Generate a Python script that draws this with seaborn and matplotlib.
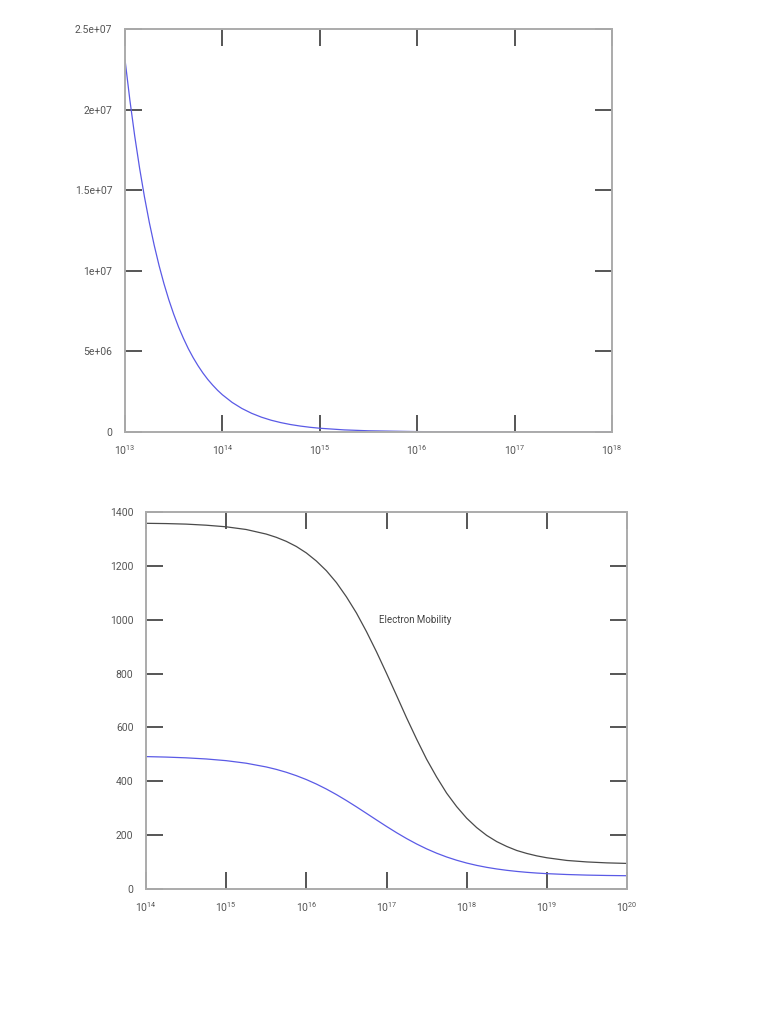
import numpy as np
import pandas as pd
import matplotlib
matplotlib.use('Agg')
import matplotlib.pyplot as plt
import seaborn as sns

# DADOS
log_n_top = [13.0, 13.05, 13.1, 13.15, 13.2, 13.25, 13.3, 13.35, 13.4, 13.45,
             13.5, 13.55, 13.6, 13.65, 13.7, 13.75, 13.8, 13.85, 13.9, 13.95,
             14.0, 14.1, 14.2, 14.3, 14.4, 14.5, 14.6, 14.7, 14.8, 14.9, 15.0,
             15.25, 15.5, 16.0, 16.5, 17.0, 17.5, 18.0]
valor_top = [2.31e7, 2.059e7, 1.835e7, 1.636e7, 1.458e7, 1.299e7, 1.158e7,
             1.032e7, 9.20e6, 8.20e6, 7.31e6, 6.51e6, 5.81e6, 5.17e6, 4.61e6,
             4.11e6, 3.66e6, 3.26e6, 2.91e6, 2.59e6, 2.31e6, 1.835e6, 1.46e6,
             1.16e6, 9.21e5, 7.31e5, 5.82e5, 4.62e5, 3.68e5, 2.92e5, 2.33e5,
             1.31e5, 7.5e4, 2.52e4, 8.8e3, 3.9e3, 2.06e3, 1.19e3]

log_n_mob = [14.0, 14.25, 14.5, 14.75, 15.0, 15.25, 15.5, 15.625, 15.75,
             15.875, 16.0, 16.125, 16.25, 16.375, 16.5, 16.625, 16.75, 16.875,
             17.0, 17.125, 17.25, 17.375, 17.5, 17.625, 17.75, 17.875, 18.0,
             18.125, 18.25, 18.375, 18.5, 18.625, 18.75, 18.875, 19.0, 19.25,
             19.5, 19.75, 20.0]
mob_eletron = [1358, 1357, 1355, 1351, 1345, 1335, 1318, 1306, 1291, 1272,
               1248, 1218, 1182, 1138, 1085, 1025, 956, 881, 801, 719, 636,
               557, 482, 416, 356, 306, 263, 228, 199, 176, 158, 143, 132, 123,
               116, 106, 100.5, 97, 95]
mob_lacuna = [491.7, 489.9, 487.1, 482.9, 476.6, 467.1, 453.2, 444.2, 433.5,
              420.9, 406.4, 389.8, 371.2, 350.7, 328.5, 305.1, 280.9, 256.5,
              232.4, 209.2, 187.4, 167.3, 149.1, 133.0, 118.9, 106.8, 96.4,
              87.7, 80.4, 74.4, 69.4, 65.3, 61.9, 59.2, 57.0, 53.8, 51.6, 50.2,
              49.3]

xticks_top = [1e13, 1e14, 1e15, 1e16, 1e17, 1e18]
xlabels_top = [r'$10^{%d}$' % e for e in range(13, 19)]
yticks_top = [0, 5e6, 1e7, 1.5e7, 2e7, 2.5e7]
ylabels_top = ['0', '5e+06', '1e+07', '1.5e+07', '2e+07', '2.5e+07']

xticks_bot = [1e14, 1e15, 1e16, 1e17, 1e18, 1e19, 1e20]
xlabels_bot = [r'$10^{%d}$' % e for e in range(14, 21)]
yticks_bot = [0, 200, 400, 600, 800, 1000, 1200, 1400]

sns.set_style('white')
plt.rcParams['font.family'] = ['Roboto', 'DejaVu Sans']
plt.rcParams['mathtext.fontset'] = 'custom'
plt.rcParams['mathtext.rm'] = 'Roboto'
plt.rcParams['mathtext.it'] = 'Roboto'

COR_AZUL = '#5a5ae6'
COR_PRETA = '#4a4a4a'
COR_TICK = '#555555'
COR_FRAME = '#ababab'

df_top = pd.DataFrame({'n': 10 ** np.array(log_n_top), 'v': valor_top})
df_mob = pd.DataFrame({'n': 10 ** np.array(log_n_mob),
                       'eletron': mob_eletron, 'lacuna': mob_lacuna})

fig = plt.figure(figsize=(7.68, 10.24), dpi=100)
ax1 = fig.add_axes([125 / 768, 1 - 432 / 1024, 487 / 768, 403 / 1024])
ax2 = fig.add_axes([146 / 768, 1 - 889 / 1024, 481 / 768, 377 / 1024])


def estilo(ax):
    for s in ax.spines.values():
        s.set_color(COR_FRAME)
        s.set_linewidth(1.4)
    ax.minorticks_off()
    ax.tick_params(axis='both', which='major', direction='in', length=12,
                   width=1.4, color=COR_TICK, labelcolor=COR_TICK,
                   labelsize=7.5, top=True, right=True, bottom=True, left=True)
    ax.tick_params(axis='x', pad=8)
    ax.tick_params(axis='y', pad=9)


# GRAFICO SUPERIOR
sns.lineplot(data=df_top, x='n', y='v', ax=ax1, color=COR_AZUL, linewidth=0.9)
ax1.set_xscale('log')
ax1.set_xlim(1e13, 1e18)
ax1.set_ylim(0, 2.5e7)
ax1.set_xticks(xticks_top)
ax1.set_xticklabels(xlabels_top)
ax1.set_yticks(yticks_top)
ax1.set_yticklabels(ylabels_top)
ax1.set_xlabel('')
ax1.set_ylabel('')
estilo(ax1)

# GRAFICO INFERIOR - MOBILIDADE
sns.lineplot(data=df_mob, x='n', y='eletron', ax=ax2, color=COR_PRETA, linewidth=0.9)
sns.lineplot(data=df_mob, x='n', y='lacuna', ax=ax2, color=COR_AZUL, linewidth=0.9)
ax2.set_xscale('log')
ax2.set_xlim(1e14, 1e20)
ax2.set_ylim(0, 1400)
ax2.set_xticks(xticks_bot)
ax2.set_xticklabels(xlabels_bot)
ax2.set_yticks(yticks_bot)
ax2.set_xlabel('')
ax2.set_ylabel('')
ax2.text(8e16, 1000, 'Electron Mobility', fontsize=7, color='#444444',
         ha='left', va='center')
estilo(ax2)

plt.savefig('out.png', dpi=100)
